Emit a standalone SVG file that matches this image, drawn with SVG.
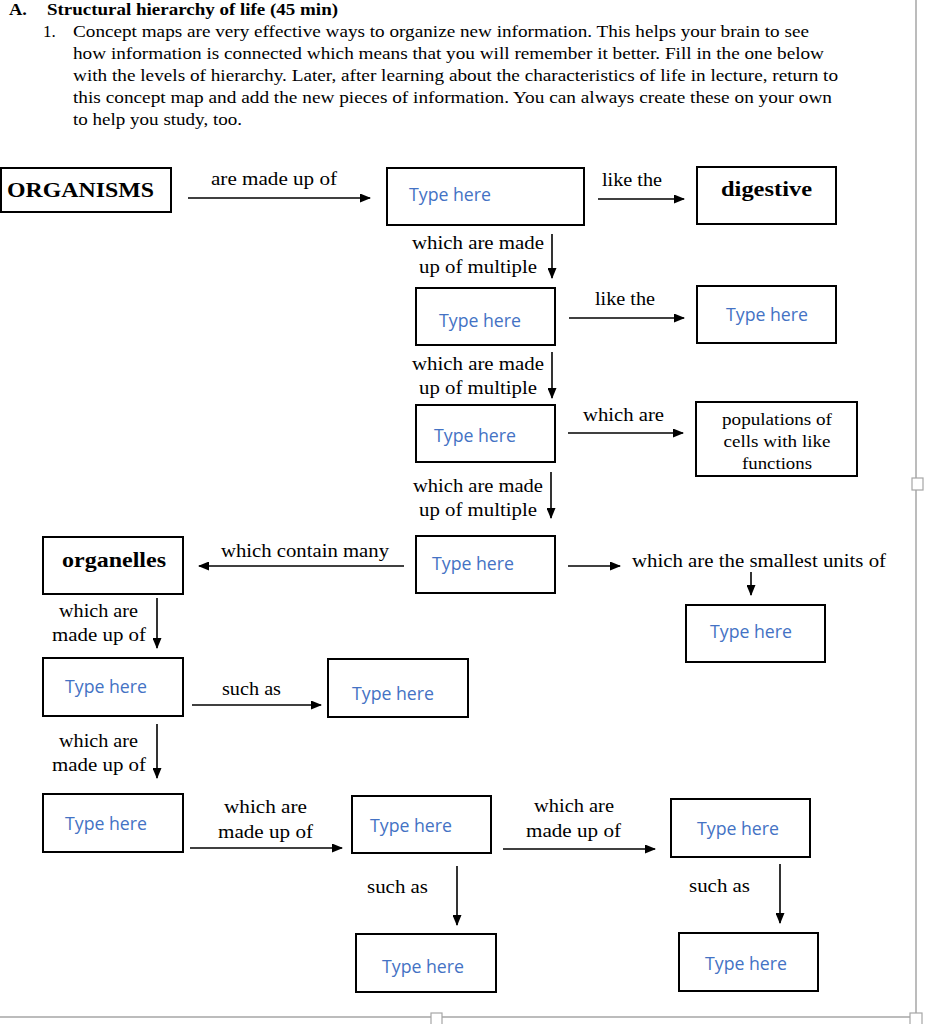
<svg xmlns="http://www.w3.org/2000/svg" width="925" height="1024" viewBox="0 0 925 1024">
<style>
.bg{fill:#ffffff}
.box{fill:#ffffff;stroke:#000;stroke-width:2}
.t{font-family:"Liberation Serif","Times New Roman",serif;font-size:17px;fill:#000}
.tb{font-family:"Liberation Serif","Times New Roman",serif;font-size:17px;font-weight:bold;fill:#000}
.lb{font-family:"Liberation Serif","Times New Roman",serif;font-size:19px;fill:#000}
.b{font-family:"Liberation Serif","Times New Roman",serif;font-size:21px;font-weight:bold;fill:#000}
.th{font-family:"Open Sans","Noto Sans",sans-serif;font-size:19px;fill:#4472C4}
.pt{font-family:"Liberation Serif","Times New Roman",serif;font-size:17px;fill:#000;text-anchor:middle}
.ar{stroke:#000;stroke-width:1.6;fill:none;marker-end:url(#ah)}
.fr{stroke:#a6a6a6;stroke-width:1.5;fill:none}
.hd{fill:#fff;stroke:#a6a6a6;stroke-width:1.2}
</style>
<defs>
<marker id="ah" markerUnits="userSpaceOnUse" markerWidth="11" markerHeight="9" refX="10" refY="4.5" orient="auto">
<path d="M0,0 L11,4.5 L0,9 z" fill="#000"/>
</marker>
</defs>
<rect class="bg" x="0" y="0" width="925" height="1024"/>

<g id="header" xml:space="preserve">
<text class="tb" x="9" y="15" textLength="18" lengthAdjust="spacingAndGlyphs">A.</text>
<text class="tb" x="47" y="15" textLength="291" lengthAdjust="spacingAndGlyphs">Structural hierarchy of life (45 min)</text>
<text class="t" x="43" y="37">1.</text>
<text class="t" x="73" y="37" textLength="736" lengthAdjust="spacingAndGlyphs">Concept maps are very effective ways to organize new information.  This helps your brain to see</text>
<text class="t" x="73" y="59" textLength="751" lengthAdjust="spacingAndGlyphs">how information is connected which means that you will remember it better.  Fill in the one below</text>
<text class="t" x="73" y="81" textLength="765" lengthAdjust="spacingAndGlyphs">with the levels of hierarchy.  Later, after learning about the characteristics of life in lecture, return to</text>
<text class="t" x="73" y="103" textLength="759" lengthAdjust="spacingAndGlyphs">this concept map and add the new pieces of information.  You can always create these on your own</text>
<text class="t" x="73" y="125" textLength="169" lengthAdjust="spacingAndGlyphs">to help you study, too.</text>
</g>

<g id="connectors">
<line class="ar" x1="188" y1="198" x2="370" y2="198"/>
<line class="ar" x1="598" y1="199" x2="684" y2="199"/>
<line class="ar" x1="552" y1="234" x2="552" y2="278"/>
<line class="ar" x1="569" y1="318" x2="684" y2="318"/>
<line class="ar" x1="552" y1="352" x2="552" y2="398"/>
<line class="ar" x1="568" y1="433" x2="683" y2="433"/>
<line class="ar" x1="551" y1="472" x2="551" y2="518"/>
<line class="ar" x1="404" y1="566" x2="199" y2="566"/>
<line class="ar" x1="568" y1="566" x2="620" y2="566"/>
<line class="ar" x1="751" y1="572" x2="751" y2="595"/>
<line class="ar" x1="157" y1="598" x2="157" y2="648"/>
<line class="ar" x1="192" y1="705" x2="321" y2="705"/>
<line class="ar" x1="157" y1="724" x2="157" y2="778"/>
<line class="ar" x1="190" y1="848" x2="342" y2="848"/>
<line class="ar" x1="503" y1="849" x2="655" y2="849"/>
<line class="ar" x1="457" y1="866" x2="457" y2="925"/>
<line class="ar" x1="780" y1="864" x2="780" y2="923"/>
<text class="lb" x="211" y="185" textLength="126" lengthAdjust="spacingAndGlyphs">are made up of</text>
<text class="lb" x="602" y="186" textLength="60" lengthAdjust="spacingAndGlyphs">like the</text>
<text class="lb" x="412" y="249" textLength="132" lengthAdjust="spacingAndGlyphs">which are made</text>
<text class="lb" x="419" y="273" textLength="118" lengthAdjust="spacingAndGlyphs">up of multiple</text>
<text class="lb" x="595" y="305" textLength="60" lengthAdjust="spacingAndGlyphs">like the</text>
<text class="lb" x="412" y="370" textLength="132" lengthAdjust="spacingAndGlyphs">which are made</text>
<text class="lb" x="419" y="394" textLength="118" lengthAdjust="spacingAndGlyphs">up of multiple</text>
<text class="lb" x="583" y="421" textLength="81" lengthAdjust="spacingAndGlyphs">which are</text>
<text class="lb" x="413" y="492" textLength="130" lengthAdjust="spacingAndGlyphs">which are made</text>
<text class="lb" x="419" y="516" textLength="118" lengthAdjust="spacingAndGlyphs">up of multiple</text>
<text class="lb" x="221" y="557" textLength="168" lengthAdjust="spacingAndGlyphs">which contain many</text>
<text class="lb" x="632" y="567" textLength="254" lengthAdjust="spacingAndGlyphs">which are the smallest units of</text>
<text class="lb" x="59" y="617" textLength="79" lengthAdjust="spacingAndGlyphs">which are</text>
<text class="lb" x="52" y="641" textLength="94" lengthAdjust="spacingAndGlyphs">made up of</text>
<text class="lb" x="222" y="695" textLength="59" lengthAdjust="spacingAndGlyphs">such as</text>
<text class="lb" x="59" y="747" textLength="79" lengthAdjust="spacingAndGlyphs">which are</text>
<text class="lb" x="52" y="771" textLength="94" lengthAdjust="spacingAndGlyphs">made up of</text>
<text class="lb" x="224" y="813" textLength="83" lengthAdjust="spacingAndGlyphs">which are</text>
<text class="lb" x="218" y="838" textLength="95" lengthAdjust="spacingAndGlyphs">made up of</text>
<text class="lb" x="534" y="812" textLength="80" lengthAdjust="spacingAndGlyphs">which are</text>
<text class="lb" x="526" y="837" textLength="95" lengthAdjust="spacingAndGlyphs">made up of</text>
<text class="lb" x="367" y="893" textLength="61" lengthAdjust="spacingAndGlyphs">such as</text>
<text class="lb" x="689" y="892" textLength="61" lengthAdjust="spacingAndGlyphs">such as</text>
</g>

<g id="n-organisms"><rect class="box" x="1" y="168" width="170" height="44"/><text class="b" x="7" y="197" textLength="147" lengthAdjust="spacingAndGlyphs">ORGANISMS</text></g>
<g id="n-a"><rect class="box" x="387" y="168" width="197" height="57"/><text class="th" x="409" y="201" textLength="82" lengthAdjust="spacingAndGlyphs">Type here</text></g>
<g id="n-digestive"><rect class="box" x="697" y="167" width="139" height="57"/><text class="b" x="721" y="196" textLength="91" lengthAdjust="spacingAndGlyphs">digestive</text></g>
<g id="n-b"><rect class="box" x="416" y="288" width="139" height="57"/><text class="th" x="439" y="327" textLength="82" lengthAdjust="spacingAndGlyphs">Type here</text></g>
<g id="n-b2"><rect class="box" x="697" y="286" width="139" height="57"/><text class="th" x="726" y="321" textLength="82" lengthAdjust="spacingAndGlyphs">Type here</text></g>
<g id="n-c"><rect class="box" x="416" y="405" width="139" height="57"/><text class="th" x="434" y="442" textLength="82" lengthAdjust="spacingAndGlyphs">Type here</text></g>
<g id="n-pop"><rect class="box" x="696" y="402" width="161" height="74"/>
<text class="pt" x="777" y="425" textLength="110" lengthAdjust="spacingAndGlyphs">populations of</text>
<text class="pt" x="777" y="447" textLength="107" lengthAdjust="spacingAndGlyphs">cells with like</text>
<text class="pt" x="777" y="469" textLength="70" lengthAdjust="spacingAndGlyphs">functions</text></g>
<g id="n-d"><rect class="box" x="416" y="536" width="139" height="57"/><text class="th" x="432" y="570" textLength="82" lengthAdjust="spacingAndGlyphs">Type here</text></g>
<g id="n-organelles"><rect class="box" x="43" y="537" width="140" height="57"/><text class="b" x="62" y="567" textLength="104" lengthAdjust="spacingAndGlyphs">organelles</text></g>
<g id="n-e"><rect class="box" x="686" y="605" width="139" height="57"/><text class="th" x="710" y="638" textLength="82" lengthAdjust="spacingAndGlyphs">Type here</text></g>
<g id="n-f"><rect class="box" x="43" y="658" width="140" height="58"/><text class="th" x="65" y="693" textLength="82" lengthAdjust="spacingAndGlyphs">Type here</text></g>
<g id="n-g"><rect class="box" x="328" y="659" width="140" height="58"/><text class="th" x="352" y="700" textLength="82" lengthAdjust="spacingAndGlyphs">Type here</text></g>
<g id="n-h"><rect class="box" x="43" y="794" width="140" height="58"/><text class="th" x="65" y="830" textLength="82" lengthAdjust="spacingAndGlyphs">Type here</text></g>
<g id="n-i"><rect class="box" x="352" y="796" width="139" height="57"/><text class="th" x="370" y="832" textLength="82" lengthAdjust="spacingAndGlyphs">Type here</text></g>
<g id="n-j"><rect class="box" x="671" y="799" width="139" height="58"/><text class="th" x="697" y="835" textLength="82" lengthAdjust="spacingAndGlyphs">Type here</text></g>
<g id="n-k"><rect class="box" x="356" y="934" width="140" height="58"/><text class="th" x="382" y="973" textLength="82" lengthAdjust="spacingAndGlyphs">Type here</text></g>
<g id="n-l"><rect class="box" x="679" y="933" width="139" height="58"/><text class="th" x="705" y="970" textLength="82" lengthAdjust="spacingAndGlyphs">Type here</text></g>

<g id="frame">
<line class="fr" x1="916" y1="0" x2="916" y2="1017"/>
<line class="fr" x1="0" y1="1017" x2="916" y2="1017"/>
<rect class="hd" x="912" y="478" width="11" height="12"/>
<rect class="hd" x="431" y="1013" width="11" height="12"/>
<rect class="hd" x="910" y="1013" width="12" height="12"/>
</g>
</svg>
